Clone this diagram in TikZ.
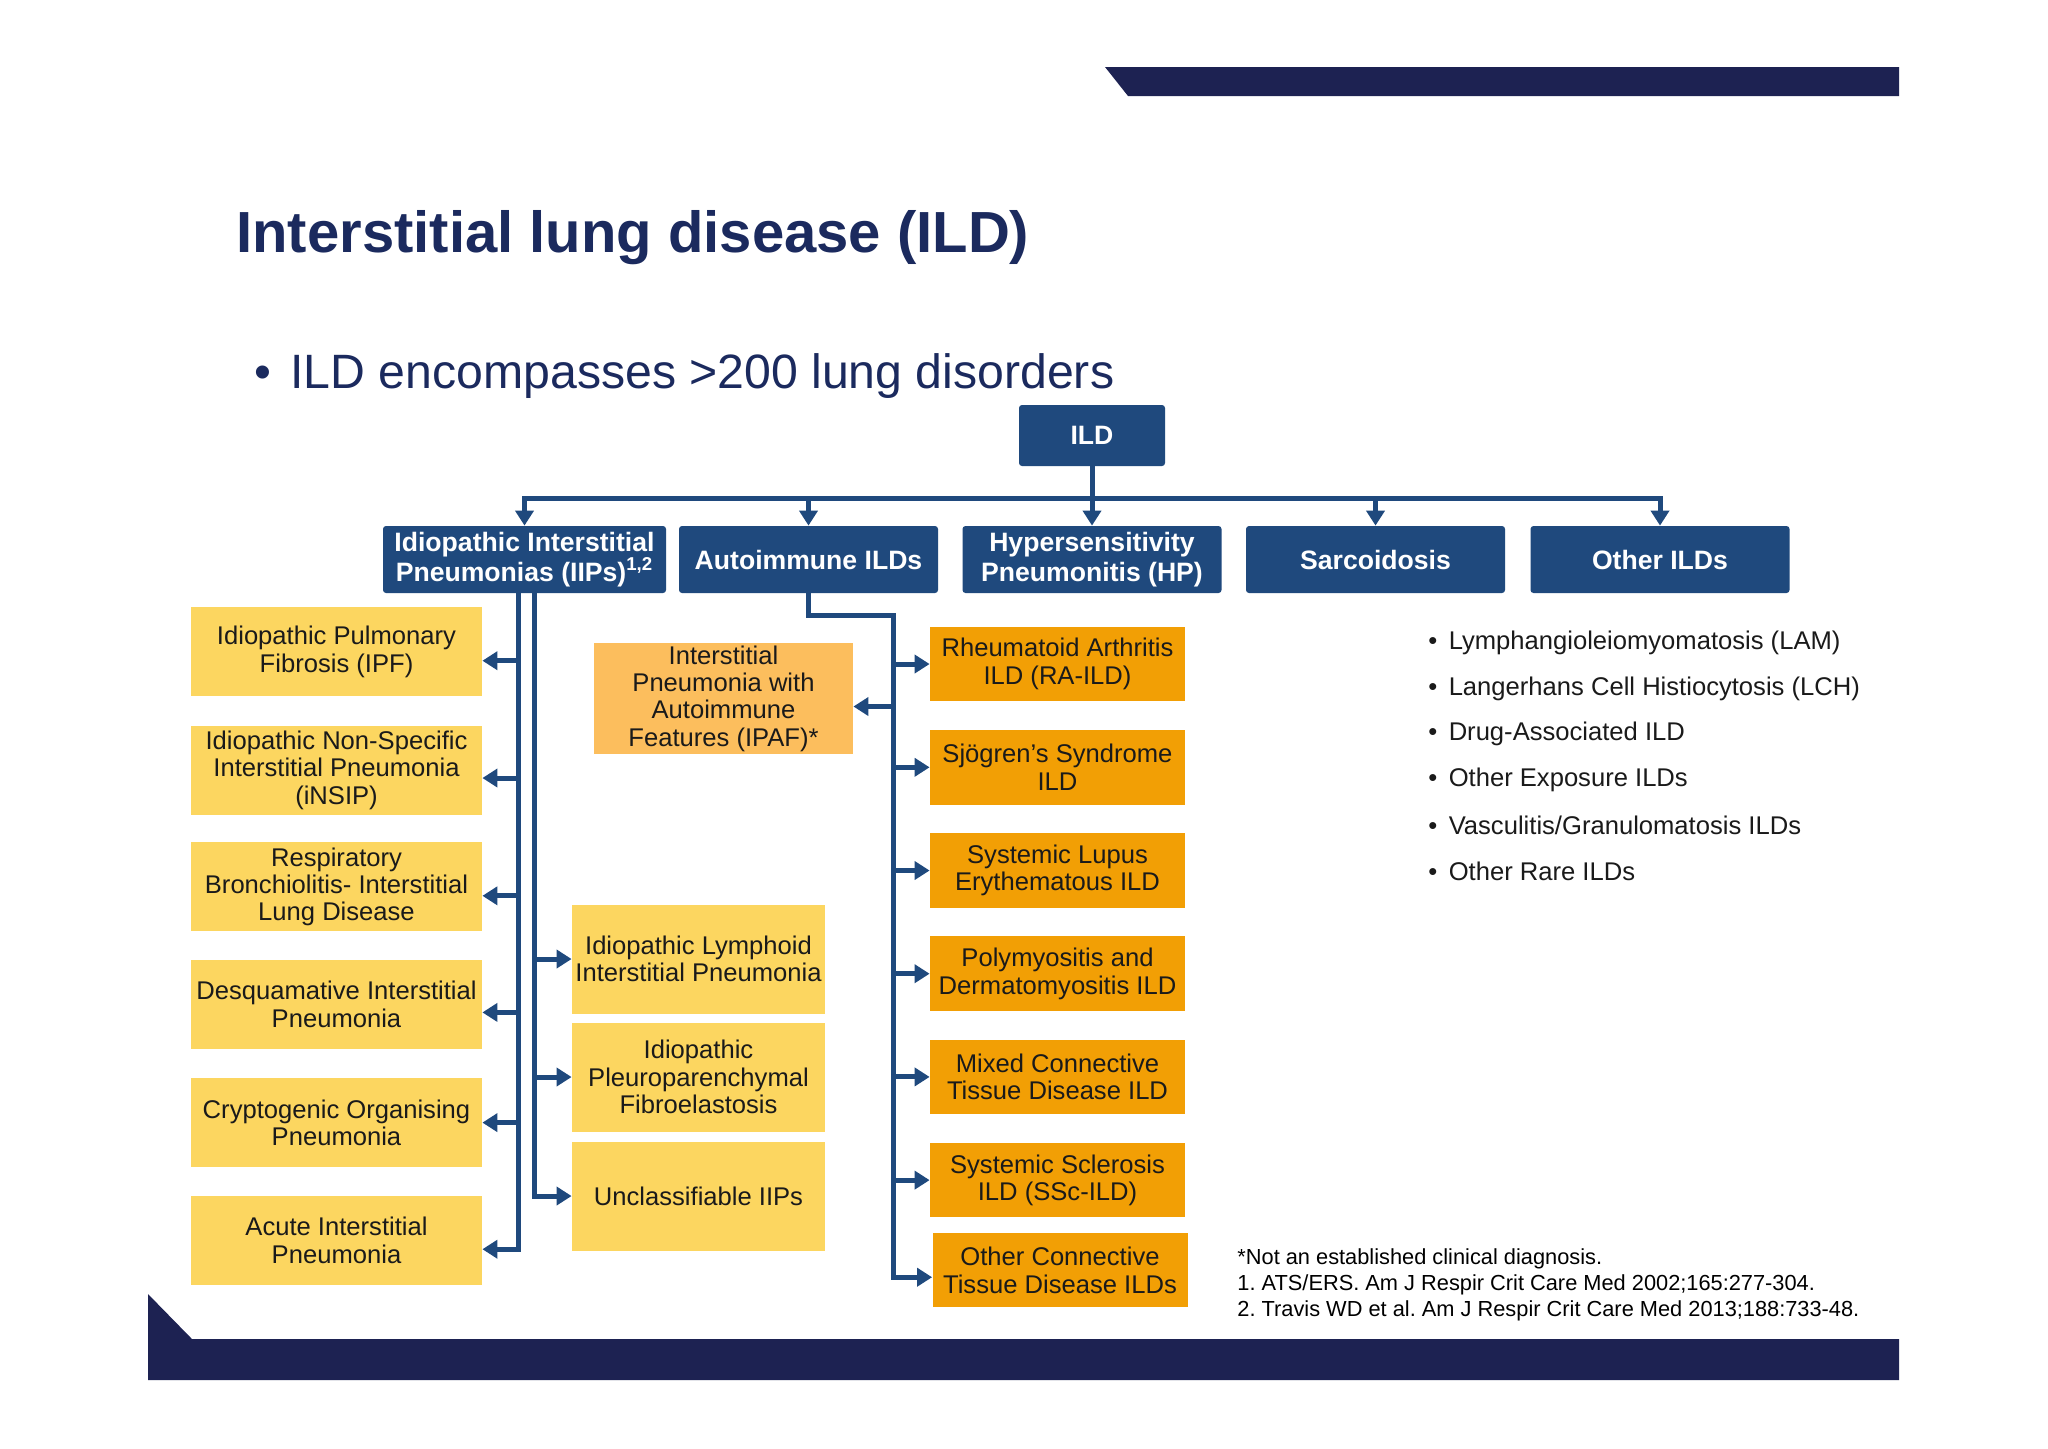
\documentclass[tikz,border=0pt]{standalone}
\usepackage{fontspec}
\setmainfont{Liberation Sans}
\usetikzlibrary{arrows.meta}
\definecolor{navybar}{HTML}{1D2252}
\definecolor{titlec}{HTML}{1B2A5E}
\definecolor{boxblue}{HTML}{1F497D}
\definecolor{yel}{HTML}{FCD660}
\definecolor{org}{HTML}{F29F05}
\definecolor{lorg}{HTML}{FCBE5D}
\definecolor{txt}{HTML}{1A1A1A}
\frenchspacing
\begin{document}
\begin{tikzpicture}[x=0.5pt,y=-0.5pt,
  bluebox/.style={fill=boxblue,text=white,font=\fontsize{13.3}{14.8}\selectfont\bfseries,align=center,inner sep=0pt,minimum width=129.5pt,minimum height=33.5pt,rounded corners=1.5pt},
  ybox/.style={fill=yel,text=txt,font=\fontsize{12.8}{13.7}\selectfont,align=center,inner sep=0pt,minimum width=145.5pt,minimum height=44.5pt},
  yrbox/.style={ybox,minimum width=126.5pt,minimum height=54.5pt},
  obox/.style={fill=org,text=txt,font=\fontsize{12.8}{13.7}\selectfont,align=center,inner sep=0pt,minimum width=127.5pt,minimum height=37.25pt},
  ipafbox/.style={fill=lorg,text=txt,font=\fontsize{12.8}{13.7}\selectfont,align=center,inner sep=0pt,minimum width=129.5pt,minimum height=55.5pt},
  conn/.style={draw=boxblue,line width=2.5pt},
  arr/.style={conn,-{Triangle[length=7.5pt,width=9pt]}},
  listtxt/.style={anchor=west,inner sep=0pt,text=txt,font=\fontsize{12.8}{14}\selectfont},
  foot/.style={anchor=west,inner sep=0pt,text=black,font=\fontsize{10.9}{13}\selectfont},
]
\useasboundingbox (0,0) rectangle (2048,1448);
\fill[white] (0,0) rectangle (2048,1448);

% decorative bars
\fill[navybar] (1105,67) -- (1899,67) -- (1899,96) -- (1128,96) -- cycle;
\fill[navybar] (148,1294) -- (192,1339) -- (1899,1339) -- (1899,1380) -- (148,1380) -- cycle;

% title and bullet
\node[anchor=base west,inner sep=0pt,text=titlec,font=\fontsize{29}{34}\selectfont\bfseries] (title) at (236,252) {Interstitial lung disease (ILD)};
\node[anchor=base west,inner sep=0pt,text=titlec,font=\fontsize{24.1}{29}\selectfont] (bul) at (254,388) {•};
\node[anchor=base west,inner sep=0pt,text=titlec,font=\fontsize{24.1}{29}\selectfont] (intro) at (290,388) {ILD encompasses >200 lung disorders};

% top level
\node[bluebox,minimum width=73pt,minimum height=30.5pt] (ild) at (1092,435.5) {ILD};
\node[bluebox,minimum width=141.5pt] (iip) at (524.5,559.5) {Idiopathic Interstitial\\Pneumonias (IIPs)\textsuperscript{1,2}};
\node[bluebox] (auto) at (808.5,559.5) {Autoimmune ILDs};
\node[bluebox] (hp) at (1092,559.5) {Hypersensitivity\\Pneumonitis (HP)};
\node[bluebox] (sarc) at (1375.5,559.5) {Sarcoidosis};
\node[bluebox] (oth) at (1660,559.5) {Other ILDs};

% IIP left column
\node[ybox] (ipf) at (336.5,651.7) {Idiopathic Pulmonary\\Fibrosis (IPF)};
\node[ybox] (nsip) at (336.5,770) {Idiopathic Non-Specific\\Interstitial Pneumonia\\(iNSIP)};
\node[ybox] (rbild) at (336.5,886.8) {Respiratory\\Bronchiolitis- Interstitial\\Lung Disease};
\node[ybox] (dip) at (336.5,1004.4) {Desquamative Interstitial\\Pneumonia};
\node[ybox] (cop) at (336.5,1122.6) {Cryptogenic Organising\\Pneumonia};
\node[ybox] (aip) at (336.5,1240.2) {Acute Interstitial\\Pneumonia};

% IIP right column
\node[yrbox] (lip) at (698.5,959) {Idiopathic Lymphoid\\Interstitial Pneumonia};
\node[yrbox] (ppfe) at (698.5,1077) {Idiopathic\\Pleuroparenchymal\\Fibroelastosis};
\node[yrbox] (uiip) at (698.5,1196) {Unclassifiable IIPs};

% IPAF
\node[ipafbox] (ipaf) at (723.5,698.5) {Interstitial\\Pneumonia with\\Autoimmune\\Features (IPAF)*};

% autoimmune column
\node[obox] (ra) at (1057.5,664) {Rheumatoid Arthritis\\ILD (RA-ILD)};
\node[obox] (ss) at (1057.5,767.3) {Sjögren’s Syndrome\\ILD};
\node[obox] (sle) at (1057.5,870.5) {Systemic Lupus\\Erythematous ILD};
\node[obox] (pm) at (1057.5,973.7) {Polymyositis and\\Dermatomyositis ILD};
\node[obox] (mctd) at (1057.5,1076.9) {Mixed Connective\\Tissue Disease ILD};
\node[obox] (ssc) at (1057.5,1180.1) {Systemic Sclerosis\\ILD (SSc-ILD)};
\node[obox] (octd) at (1060,1270.2) {Other Connective\\Tissue Disease ILDs};

% connectors top
\coordinate (bus) at (1092,498);
\draw[conn,line cap=rect] (iip.north |- bus) -- (oth.north |- bus);
\draw[arr] (ild.south) -- (hp.north);
\draw[arr] (iip.north |- bus) -- (iip.north);
\draw[arr] (auto.north |- bus) -- (auto.north);
\draw[arr] (sarc.north |- bus) -- (sarc.north);
\draw[arr] (oth.north |- bus) -- (oth.north);

% IIP trunks
\coordinate (tL) at ([xshift=-3.25pt]iip.south);
\coordinate (tR) at ([xshift=4.75pt]iip.south);
\draw[arr] (tL) |- ([yshift=-4.5pt]ipf.east);
\draw[arr] (tL) |- ([yshift=-4pt]nsip.east);
\draw[arr] (tL) |- ([yshift=-4.5pt]rbild.east);
\draw[arr] (tL) |- ([yshift=-4pt]dip.east);
\draw[arr] (tL) |- (cop.east);
\draw[arr] (tL) |- ([yshift=-4.5pt]aip.east);
\draw[arr] (tR) |- (lip.west);
\draw[arr] (tR) |- (ppfe.west);
\draw[arr] (tR) |- (uiip.west);

% autoimmune trunk
\coordinate (aT) at (893,615);
\draw[arr] (auto.south) |- (aT) |- (ra.west);
\draw[arr] (aT) |- ([yshift=-4pt]ipaf.east);
\draw[arr] (aT) |- (ss.west);
\draw[arr] (aT) |- (sle.west);
\draw[arr] (aT) |- (pm.west);
\draw[arr] (aT) |- (mctd.west);
\draw[arr] (aT) |- (ssc.west);
\draw[arr] (aT) |- ([yshift=-3.5pt]octd.west);

% other ILDs list
\node[listtxt] (l1) at (1428,643) {•\, Lymphangioleiomyomatosis (LAM)};
\node[listtxt] (l2) at (1428,689) {•\, Langerhans Cell Histiocytosis (LCH)};
\node[listtxt] (l3) at (1428,734) {•\, Drug-Associated ILD};
\node[listtxt] (l4) at (1428,780) {•\, Other Exposure ILDs};
\node[listtxt] (l5) at (1428,825) {•\, Vasculitis/Granulomatosis ILDs};
\node[listtxt] (l6) at (1428,871) {•\, Other Rare ILDs};

% footnotes
\node[foot] (f1) at (1237,1259) {*Not an established clinical diagnosis.};
\node[foot] (f2) at (1237,1285) {1. ATS/ERS. Am J Respir Crit Care Med 2002;165:277-304.};
\node[foot] (f3) at (1237,1311) {2. Travis WD et al. Am J Respir Crit Care Med 2013;188:733-48.};
\end{tikzpicture}
\end{document}
